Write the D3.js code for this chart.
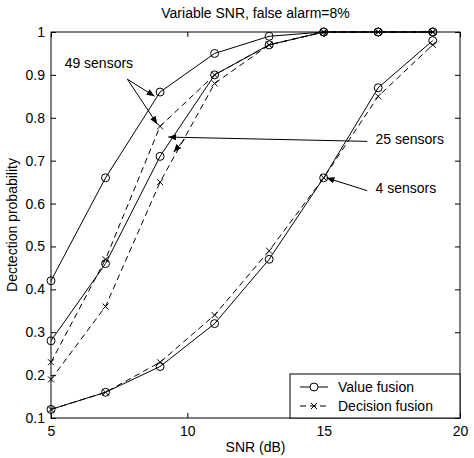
<!DOCTYPE html>
<html><head><meta charset="utf-8">
<script src="https://cdn.jsdelivr.net/npm/d3@7"></script>
<style>body{margin:0;background:#fff}text{font-family:"Liberation Sans",Arial,sans-serif}</style>
</head><body><svg width="474" height="458"></svg>
<script>
var snr = [5, 7, 9, 11, 13, 15, 17, 19]
var value49 = [0.42, 0.66, 0.86, 0.95, 0.99, 1, 1, 1]
var decision49 = [0.23, 0.47, 0.78, 0.90, 0.97, 1, 1, 1]
var value25 = [0.28, 0.46, 0.71, 0.90, 0.97, 1, 1, 1]
var decision25 = [0.19, 0.36, 0.65, 0.88, 0.97, 1, 1, 1]
var value4 = [0.12, 0.16, 0.22, 0.32, 0.47, 0.66, 0.87, 0.98]
var decision4 = [0.12, 0.16, 0.23, 0.34, 0.49, 0.66, 0.85, 0.97]
var xTicks = [5, 10, 15, 20]
var yTicks = [0.1, 0.2, 0.3, 0.4, 0.5, 0.6, 0.7, 0.8, 0.9, 1]

var svg = d3.select("svg"),
    margin = { top: 32, right: 14, bottom: 40, left: 51 },
    width = 474 - margin.left - margin.right,
    height = 458 - margin.top - margin.bottom,
    g = svg.append("g").attr("transform", "translate(" + margin.left + "," + margin.top + ")")

var x = d3.scaleLinear().domain([5, 20]).range([0, width])
var y = d3.scaleLinear().domain([0.1, 1]).range([height, 0])

g.append("rect").attr("width", width).attr("height", height).attr("fill", "none").attr("stroke", "#000")

function ticks(axis) { axis.selectAll(".domain").remove(); axis.selectAll("text").attr("font-size", 14).attr("fill", "#000") }
g.append("g").attr("transform", "translate(0," + height + ")")
    .call(d3.axisBottom(x).tickValues(xTicks).tickSize(-5).tickPadding(8)).call(ticks)
g.append("g").call(d3.axisTop(x).tickValues(xTicks).tickSize(-5).tickFormat("")).call(ticks)
g.append("g").call(d3.axisLeft(y).tickValues(yTicks).tickSize(-5).tickPadding(6).tickFormat(d3.format("~g"))).call(ticks)
g.append("g").attr("transform", "translate(" + width + ",0)")
    .call(d3.axisRight(y).tickValues(yTicks).tickSize(-5).tickFormat("")).call(ticks)

var line = d3.line().x(function (d) { return x(d[0]) }).y(function (d) { return y(d[1]) })

function draw(vals, dashed) {
    var pts = snr.map(function (s, i) { return [s, vals[i]] })
    g.append("path").datum(pts).attr("d", line).attr("fill", "none").attr("stroke", "#000")
        .attr("stroke-width", 1).attr("stroke-dasharray", dashed ? "6,4" : null)
    pts.forEach(function (p) { marker(x(p[0]), y(p[1]), dashed) })
}
function marker(cx, cy, cross) {
    if (cross) {
        g.append("path").attr("d", "M" + (cx - 3) + "," + (cy - 3) + "L" + (cx + 3) + "," + (cy + 3) + "M" + (cx - 3) + "," + (cy + 3) + "L" + (cx + 3) + "," + (cy - 3))
            .attr("stroke", "#000")
    } else {
        g.append("circle").attr("cx", cx).attr("cy", cy).attr("r", 4).attr("fill", "none").attr("stroke", "#000")
    }
}
draw(value49, false); draw(decision49, true)
draw(value25, false); draw(decision25, true)
draw(value4, false); draw(decision4, true)

svg.append("defs").append("marker").attr("id", "ar").attr("viewBox", "0 0 10 10").attr("refX", 10).attr("refY", 5)
    .attr("markerWidth", 8).attr("markerHeight", 8).attr("orient", "auto")
    .append("path").attr("d", "M0,1L10,5L0,9z").attr("fill", "#000")
function arrow(x1, y1, x2, y2) {
    g.append("line").attr("x1", x(x1)).attr("y1", y(y1)).attr("x2", x(x2)).attr("y2", y(y2))
        .attr("stroke", "#000").attr("marker-end", "url(#ar)")
}
function label(t, xv, yv) { g.append("text").attr("x", x(xv)).attr("y", y(yv)).attr("font-size", 14).text(t) }
label("49 sensors", 5.5, 0.915)
arrow(7.8, 0.89, 8.8, 0.85); arrow(7.8, 0.89, 8.9, 0.785)
label("25 sensors", 16.9, 0.74)
arrow(16.6, 0.745, 9.3, 0.755); arrow(9.9, 0.75, 9.5, 0.72)
label("4 sensors", 16.9, 0.625)
arrow(16.6, 0.63, 15.1, 0.66)

var lg = g.append("g").attr("transform", "translate(" + (width - 170) + "," + (height - 44) + ")")
lg.append("rect").attr("width", 170).attr("height", 44).attr("fill", "#fff").attr("stroke", "#000")
lg.append("line").attr("x1", 10).attr("x2", 38).attr("y1", 13).attr("y2", 13).attr("stroke", "#000")
lg.append("circle").attr("cx", 24).attr("cy", 13).attr("r", 4).attr("fill", "#fff").attr("stroke", "#000")
lg.append("line").attr("x1", 10).attr("x2", 38).attr("y1", 32).attr("y2", 32).attr("stroke", "#000").attr("stroke-dasharray", "6,4")
lg.append("path").attr("d", "M21,29L27,35M21,35L27,29").attr("stroke", "#000")
lg.append("text").attr("x", 48).attr("y", 18).attr("font-size", 14).text("Value fusion")
lg.append("text").attr("x", 48).attr("y", 37).attr("font-size", 14).text("Decision fusion")

svg.append("text").attr("x", margin.left + width / 2).attr("y", 18).attr("text-anchor", "middle").attr("font-size", 14).text("Variable SNR, false alarm=8%")
svg.append("text").attr("x", margin.left + width / 2).attr("y", 452).attr("text-anchor", "middle").attr("font-size", 14).text("SNR (dB)")
svg.append("text").attr("transform", "translate(17," + (margin.top + height / 2) + ") rotate(-90)").attr("text-anchor", "middle").attr("font-size", 14).text("Dectection probability")
</script></body></html>
